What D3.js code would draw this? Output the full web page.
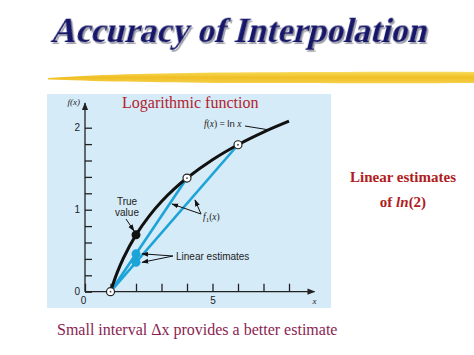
<!DOCTYPE html>
<html>
<head>
<meta charset="utf-8">
<script src="https://cdn.jsdelivr.net/npm/d3@7"></script>
<style>
  html, body { margin: 0; padding: 0; background: #ffffff; }
  svg { display: block; }
</style>
</head>
<body>
<svg id="chart" width="474" height="355"></svg>
<script>
// f(x) = ln x, read at a handful of x positions
const curveX = [1, 1.25, 1.5, 2, 2.5, 3, 3.5, 4, 5, 6, 7, 8];
const curveY = [0, 0.223, 0.405, 0.693, 0.916, 1.099, 1.253, 1.386, 1.609, 1.792, 1.946, 2.079];

// interpolation nodes (x0 = 1, x1 = 4 or 6)
const nodeX = [1, 4, 6];
const nodeY = [0, 1.386, 1.792];

// true value ln 2 and the two linear estimates at x = 2
const trueX = 2, trueY = 0.693;
const estX = [2, 2];
const estY = [0.462, 0.358];

const xTicks = [0, 1, 2, 3, 4, 5, 6, 7, 8];
const xTickLabels = ["0", "", "", "", "", "5", "", "", ""];
const yTicks = [0, 0.2, 0.4, 0.6, 0.8, 1, 1.2, 1.4, 1.6, 1.8, 2];
const yTickLabels = ["0", "", "", "", "", "1", "", "", "", "", "2"];

const svg = d3.select("#chart");
const defs = svg.append("defs");

// ---- title: slanted bold serif with drop shadow ----
const shadow = defs.append("filter").attr("id", "shadow")
  .attr("x", "-5%").attr("y", "-20%").attr("width", "115%").attr("height", "150%");
shadow.append("feDropShadow").attr("dx", 2).attr("dy", 2).attr("stdDeviation", 0.6)
  .attr("flood-color", "#8a8a9a").attr("flood-opacity", 0.8);

svg.append("g")
  .attr("transform", "translate(238,42) skewX(-14)")
  .append("text")
  .attr("x", 0).attr("y", 0)
  .attr("text-anchor", "middle")
  .attr("font-family", "'Liberation Serif', 'Times New Roman', serif")
  .attr("font-weight", "bold")
  .attr("font-size", 34).attr("fill", "#17176b")
  .attr("filter", "url(#shadow)")
  .text("Accuracy of Interpolation");

// ---- yellow brush stroke under the title ----
const grad = defs.append("linearGradient").attr("id", "brush")
  .attr("x1", 0).attr("y1", 0).attr("x2", 0).attr("y2", 1);
grad.append("stop").attr("offset", "0%").attr("stop-color", "#f7dc5a");
grad.append("stop").attr("offset", "50%").attr("stop-color", "#f0bf26");
grad.append("stop").attr("offset", "100%").attr("stop-color", "#f5d04a");
defs.append("filter").attr("id", "soft")
  .append("feGaussianBlur").attr("stdDeviation", 0.6);
svg.append("path")
  .attr("d", "M48,78 C90,75 150,73 230,72.5 C320,72 400,71.5 474,72 L474,83 C400,83.5 320,83 230,83 C150,82.5 90,81 48,79.5 Z")
  .attr("fill", "url(#brush)")
  .attr("filter", "url(#soft)");

// ---- chart panel ----
svg.append("rect")
  .attr("x", 47).attr("y", 94).attr("width", 284).attr("height", 214)
  .attr("fill", "#d6ebf8");

const x = d3.scaleLinear().domain([0, 5]).range([85, 212.5]);
const y = d3.scaleLinear().domain([0, 2]).range([291.7, 127.7]);

const g = svg.append("g");

// arrow markers
defs.append("marker").attr("id", "axisArrow")
  .attr("viewBox", "0 0 10 10").attr("refX", 9).attr("refY", 5)
  .attr("markerWidth", 6).attr("markerHeight", 6).attr("orient", "auto")
  .append("path").attr("d", "M0,1 L10,5 L0,9 Z").attr("fill", "#222");
defs.append("marker").attr("id", "ptr")
  .attr("viewBox", "0 0 10 10").attr("refX", 9).attr("refY", 5)
  .attr("markerWidth", 7).attr("markerHeight", 7).attr("orient", "auto")
  .attr("markerUnits", "userSpaceOnUse")
  .append("path").attr("d", "M0,1.5 L10,5 L0,8.5 Z").attr("fill", "#111");

// axes
const yAxis = d3.axisLeft(y)
  .tickValues(yTicks)
  .tickSize(-7).tickPadding(5)
  .tickFormat((d, i) => yTickLabels[i]);
const yg = g.append("g").attr("transform", `translate(${x(0)},0)`).call(yAxis);

const xAxis = d3.axisBottom(x)
  .tickValues(xTicks)
  .tickSize(-8).tickPadding(5)
  .tickFormat((d, i) => xTickLabels[i]);
const xg = g.append("g").attr("transform", `translate(0,${y(0)})`).call(xAxis);

[yg, xg].forEach(a => {
  a.select(".domain").remove();
  a.selectAll(".tick line").attr("stroke", "#222").attr("stroke-width", 1.3);
  a.selectAll(".tick text")
    .attr("font-family", "Liberation Sans, Arial, sans-serif")
    .attr("font-size", 10).attr("fill", "#222");
});
xg.selectAll(".tick text").attr("dx", d => d === 0 ? -2 : 0);

// axis lines with arrow heads
g.append("line")
  .attr("x1", x(0)).attr("y1", y(0)).attr("x2", x(9)).attr("y2", y(0))
  .attr("stroke", "#222").attr("stroke-width", 1.3)
  .attr("marker-end", "url(#axisArrow)");
g.append("line")
  .attr("x1", x(0)).attr("y1", y(0)).attr("x2", x(0)).attr("y2", y(2.3))
  .attr("stroke", "#222").attr("stroke-width", 1.3)
  .attr("marker-end", "url(#axisArrow)");

// axis names
g.append("text").attr("x", x(9) - 2).attr("y", y(0) + 12)
  .attr("font-family", "Liberation Serif, serif").attr("font-style", "italic")
  .attr("font-size", 9).attr("fill", "#222").text("x");
g.append("text").attr("x", x(0) - 5).attr("y", y(2.3) + 2)
  .attr("text-anchor", "end")
  .attr("font-family", "Liberation Serif, serif").attr("font-style", "italic")
  .attr("font-size", 9).attr("fill", "#222").text("f(x)");

// linear interpolants f1(x) from x0 = 1
const blue = "#1ca3d8";
[1, 2].forEach(k => {
  g.append("line")
    .attr("x1", x(nodeX[0])).attr("y1", y(nodeY[0]))
    .attr("x2", x(nodeX[k])).attr("y2", y(nodeY[k]))
    .attr("stroke", blue).attr("stroke-width", 2.6);
});

// ln x curve
const line = d3.line()
  .x((d, i) => x(curveX[i]))
  .y((d, i) => y(curveY[i]))
  .curve(d3.curveCatmullRom.alpha(0.5));
g.append("path")
  .datum(curveX)
  .attr("d", line)
  .attr("fill", "none").attr("stroke", "#111").attr("stroke-width", 3);

// estimate points
estX.forEach((ex, i) => {
  g.append("circle").attr("cx", x(ex)).attr("cy", y(estY[i])).attr("r", 4.5)
    .attr("fill", blue);
});

// true value
g.append("circle").attr("cx", x(trueX)).attr("cy", y(trueY)).attr("r", 4.5)
  .attr("fill", "#111");

// interpolation nodes (open circles)
nodeX.forEach((nx, i) => {
  g.append("circle").attr("cx", x(nx)).attr("cy", y(nodeY[i])).attr("r", 4)
    .attr("fill", "#ffffff").attr("stroke", "#222").attr("stroke-width", 1.2);
  g.append("circle").attr("cx", x(nx)).attr("cy", y(nodeY[i])).attr("r", 0.9)
    .attr("fill", "#444");
});

// annotations inside the plot
const sans = "Liberation Sans, Arial, sans-serif";
const serif = "Liberation Serif, Times New Roman, serif";

g.append("text").attr("x", 122).attr("y", 108)
  .attr("font-family", serif).attr("font-size", 16).attr("fill", "#b3222e")
  .text("Logarithmic function");

const lnLabel = g.append("text").attr("x", 204).attr("y", 127)
  .attr("font-family", serif).attr("font-size", 9.5).attr("fill", "#222");
lnLabel.append("tspan").attr("font-style", "italic").text("f");
lnLabel.append("tspan").text("(");
lnLabel.append("tspan").attr("font-style", "italic").text("x");
lnLabel.append("tspan").text(") = ");
lnLabel.append("tspan").attr("font-family", sans).text("ln ");
lnLabel.append("tspan").attr("font-style", "italic").text("x");
g.append("line").attr("x1", 245).attr("y1", 126).attr("x2", x(7.2)).attr("y2", y(1.974))
  .attr("stroke", "#111").attr("stroke-width", 1);

g.append("text").attr("x", 127).attr("y", 205).attr("text-anchor", "middle")
  .attr("font-family", sans).attr("font-size", 10).attr("fill", "#222").text("True");
g.append("text").attr("x", 127).attr("y", 216).attr("text-anchor", "middle")
  .attr("font-family", sans).attr("font-size", 10).attr("fill", "#222").text("value");
g.append("line").attr("x1", 126).attr("y1", 219).attr("x2", x(trueX) - 2).attr("y2", y(trueY) - 4)
  .attr("stroke", "#111").attr("stroke-width", 1).attr("marker-end", "url(#ptr)");

// f1(x) label with pointers to both interpolants
const f1 = g.append("text").attr("x", 203).attr("y", 220)
  .attr("font-family", serif).attr("font-size", 9.5).attr("fill", "#222");
f1.append("tspan").attr("font-style", "italic").text("f");
f1.append("tspan").attr("font-size", 7).attr("dy", 2).text("1");
f1.append("tspan").attr("dy", -2).text("(");
f1.append("tspan").attr("font-style", "italic").text("x");
f1.append("tspan").text(")");
g.append("line").attr("x1", 201).attr("y1", 214).attr("x2", 172).attr("y2", 204)
  .attr("stroke", "#111").attr("stroke-width", 1).attr("marker-end", "url(#ptr)");
g.append("line").attr("x1", 201).attr("y1", 214).attr("x2", 195).attr("y2", 200)
  .attr("stroke", "#111").attr("stroke-width", 1).attr("marker-end", "url(#ptr)");

g.append("text").attr("x", 176).attr("y", 260)
  .attr("font-family", sans).attr("font-size", 10).attr("fill", "#222")
  .text("Linear estimates");
estX.forEach((ex, i) => {
  g.append("line").attr("x1", 173).attr("y1", 256)
    .attr("x2", x(ex) + 6).attr("y2", y(estY[i]))
    .attr("stroke", "#111").attr("stroke-width", 1).attr("marker-end", "url(#ptr)");
});

// side note
svg.append("text").attr("x", 403).attr("y", 182).attr("text-anchor", "middle")
  .attr("font-family", serif).attr("font-weight", "bold").attr("font-size", 15)
  .attr("fill", "#b01c22").text("Linear estimates");
const of = svg.append("text").attr("x", 403).attr("y", 207).attr("text-anchor", "middle")
  .attr("font-family", serif).attr("font-weight", "bold").attr("font-size", 15)
  .attr("fill", "#b01c22");
of.append("tspan").text("of ");
of.append("tspan").attr("font-style", "italic").text("ln");
of.append("tspan").text("(2)");

// bottom caption
svg.append("text").attr("x", 57).attr("y", 335)
  .attr("font-family", serif).attr("font-size", 16).attr("fill", "#8a1e52")
  .text("Small interval \u0394x provides a better estimate");
</script>
</body>
</html>
